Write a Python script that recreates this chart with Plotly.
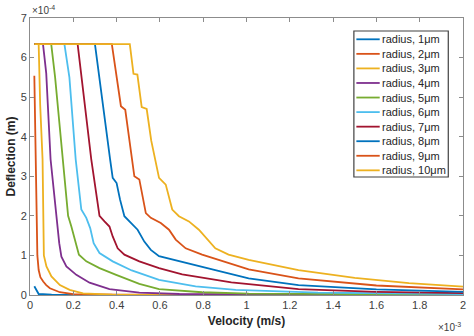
import plotly.graph_objects as go

# Velocity in units of 1e-3 m/s, deflection in units of 1e-4 m
series_names = ["radius, 1μm", "radius, 2μm", "radius, 3μm", "radius, 4μm", "radius, 5μm",
                "radius, 6μm", "radius, 7μm", "radius, 8μm", "radius, 9μm", "radius, 10μm"]
colors = ["#0072BD", "#D95319", "#EDB120", "#7E2F8E", "#77AC30",
          "#4DBEEE", "#A2142F", "#0072BD", "#D95319", "#EDB120"]

v1 = [0.02, 0.03, 0.04, 0.1, 0.5, 2.0]
d1 = [0.22, 0.10, 0.025, 0.012, 0.006, 0.003]
v2 = [0.02, 0.028, 0.034, 0.04, 0.048, 0.061, 0.075, 0.092, 0.138, 0.2, 0.4, 2.0]
d2 = [5.54, 3.43, 1.0, 0.63, 0.45, 0.34, 0.25, 0.17, 0.07, 0.02, 0.008, 0.004]
v3 = [0.02, 0.04, 0.047, 0.058, 0.064, 0.076, 0.099, 0.138, 0.183, 0.245, 0.38, 2.0]
d3 = [6.34, 6.34, 4.8, 3.43, 1.0, 0.72, 0.47, 0.25, 0.13, 0.04, 0.01, 0.004]
v4 = [0.02, 0.06, 0.067, 0.075, 0.095, 0.122, 0.135, 0.145, 0.168, 0.214, 0.275, 0.367, 0.505, 0.69, 1.0, 2.0]
d4 = [6.34, 6.34, 6.0, 5.6, 3.43, 2.0, 1.31, 0.97, 0.72, 0.51, 0.31, 0.15, 0.06, 0.025, 0.015, 0.008]
v5 = [0.02, 0.098, 0.116, 0.153, 0.176, 0.191, 0.211, 0.226, 0.26, 0.321, 0.398, 0.505, 0.596, 0.795, 1.01, 1.4, 2.0]
d5 = [6.34, 6.34, 5.5, 3.43, 2.0, 1.73, 1.31, 1.02, 0.85, 0.68, 0.51, 0.28, 0.15, 0.07, 0.035, 0.02, 0.01]
v6 = [0.02, 0.159, 0.182, 0.211, 0.237, 0.26, 0.278, 0.294, 0.321, 0.382, 0.47, 0.596, 0.765, 0.95, 1.33, 2.0]
d6 = [6.34, 6.34, 5.5, 3.43, 2.16, 1.95, 1.69, 1.31, 1.06, 0.85, 0.62, 0.38, 0.22, 0.13, 0.06, 0.025]
v7 = [0.02, 0.22, 0.283, 0.321, 0.344, 0.367, 0.382, 0.405, 0.436, 0.505, 0.596, 0.703, 0.93, 1.24, 1.6, 2.0]
d7 = [6.34, 6.34, 3.43, 2.0, 1.86, 1.73, 1.48, 1.18, 1.02, 0.85, 0.68, 0.52, 0.32, 0.15, 0.08, 0.045]
v8 = [0.02, 0.30, 0.37, 0.382, 0.4, 0.416, 0.436, 0.466, 0.497, 0.528, 0.558, 0.596, 0.688, 0.856, 1.01,
      1.24, 1.6, 2.0]
d8 = [6.34, 6.34, 3.43, 2.96, 2.83, 2.41, 1.99, 1.82, 1.65, 1.35, 1.14, 0.98, 0.85, 0.63, 0.42,
      0.25, 0.14, 0.08]
v9 = [0.02, 0.378, 0.42, 0.44, 0.482, 0.505, 0.535, 0.558, 0.604, 0.642, 0.673, 0.719, 0.795, 0.917, 1.01,
      1.24, 1.6, 2.0]
d9 = [6.34, 6.34, 4.77, 4.68, 3.0, 2.92, 2.07, 1.95, 1.82, 1.65, 1.4, 1.18, 1.02, 0.8, 0.65,
      0.42, 0.24, 0.14]
v10 = [0.02, 0.461, 0.478, 0.496, 0.516, 0.539, 0.56, 0.578, 0.596, 0.627, 0.657, 0.688, 0.734, 0.78,
       0.818, 0.856, 0.917, 1.01, 1.24, 1.5, 1.75, 2.0]
d10 = [6.34, 6.34, 5.59, 5.57, 4.75, 4.70, 3.9, 3.43, 2.96, 2.79, 2.16, 1.99, 1.86, 1.65,
       1.4, 1.18, 1.02, 0.89, 0.63, 0.43, 0.3, 0.21]

velocities = [v1, v2, v3, v4, v5, v6, v7, v8, v9, v10]
deflections = [d1, d2, d3, d4, d5, d6, d7, d8, d9, d10]

FONT = "Liberation Sans, Arial, sans-serif"
TXT = "#404040"
AX = "#8c8c8c"

fig = go.Figure()
for name, col, vx, dy in zip(series_names, colors, velocities, deflections):
    fig.add_trace(go.Scatter(x=vx, y=dy, mode="lines", name=name,
                             line=dict(color=col, width=1.8), showlegend=False))

axis_common = dict(showgrid=False, zeroline=False, showline=True, linecolor=AX, linewidth=1,
                   mirror="allticks", ticks="inside", ticklen=4, tickcolor=AX,
                   tickfont=dict(family=FONT, size=11, color=TXT))

fig.update_layout(
    width=474, height=336,
    margin=dict(l=30, r=8, t=18, b=41),
    paper_bgcolor="white", plot_bgcolor="white",
    font=dict(family=FONT, size=11, color=TXT),
    xaxis=dict(range=[0, 2], dtick=0.2, tick0=0,
               title=dict(text="<b>Velocity (m/s)</b>", font=dict(family=FONT, size=12, color="#262626"),
                          standoff=6),
               **axis_common),
    yaxis=dict(range=[0, 7], dtick=1, tick0=0,
               title=dict(text="<b>Deflection (m)</b>", font=dict(family=FONT, size=12, color="#262626"),
                          standoff=2),
               **axis_common),
)

# exponent labels
fig.add_annotation(text="×10<sup>-4</sup>", xref="paper", yref="paper", x=0.0, y=1.0,
                   xanchor="left", yanchor="bottom", showarrow=False,
                   font=dict(family=FONT, size=10, color=TXT))
fig.add_annotation(text="×10<sup>-3</sup>", xref="paper", yref="paper", x=1.0, y=-0.085,
                   xanchor="right", yanchor="top", showarrow=False,
                   font=dict(family=FONT, size=10, color=TXT))

# legend box (drawn in paper coordinates)
lx0, lx1, ly0, ly1 = 0.748, 0.966, 0.426, 0.953
fig.add_shape(type="rect", xref="paper", yref="paper", x0=lx0, x1=lx1, y0=ly0, y1=ly1,
              line=dict(color="#404040", width=1.2), fillcolor="white", layer="above")
plot_h = 336 - 18 - 41
plot_w = 474 - 30 - 8
first = (295 - 39.3) / plot_h
step = 14.56 / plot_h
for i, (name, col) in enumerate(zip(series_names, colors)):
    yy = first - i * step
    fig.add_shape(type="line", xref="paper", yref="paper",
                  x0=lx0 + 2.5 / plot_w, x1=lx0 + 26 / plot_w, y0=yy, y1=yy,
                  line=dict(color=col, width=1.8), layer="above")
    fig.add_annotation(text=name, xref="paper", yref="paper", x=lx0 + 26.5 / plot_w, y=yy,
                       xanchor="left", yanchor="middle", showarrow=False,
                       font=dict(family=FONT, size=11, color="#262626"))

fig.write_html("out.html")
